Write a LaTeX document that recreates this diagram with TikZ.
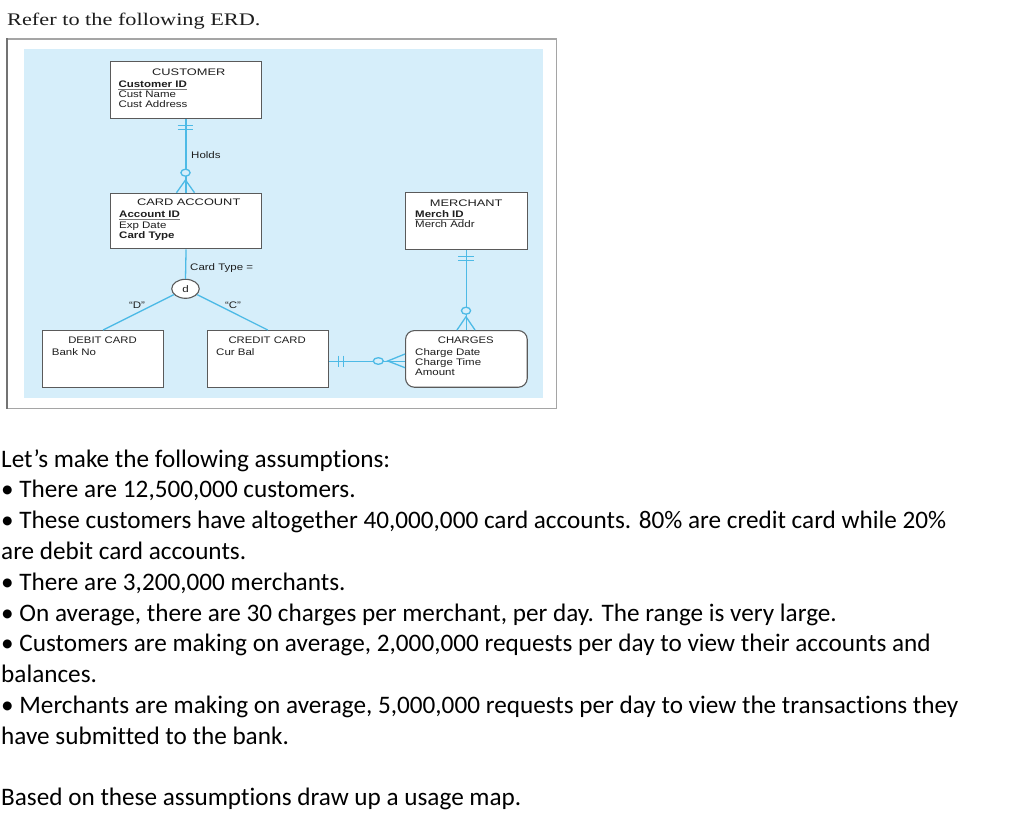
\documentclass[tikz,border=0pt]{standalone}
\usepackage{fontspec}
\usetikzlibrary{shapes.geometric,calc}
\setmainfont{Carlito}[Ligatures=NoCommon]
\newfontfamily\erdA[FakeStretch=1.35]{Liberation Sans}
\newfontfamily\erdB[FakeStretch=1.19]{Liberation Sans}
\newfontfamily\erdC[FakeStretch=1.21]{Liberation Sans}
\newfontfamily\hdfont[FakeStretch=1.26]{Liberation Serif}
\definecolor{bgblue}{RGB}{214,238,250}
\definecolor{lnblue}{RGB}{77,186,230}
\definecolor{boxgray}{RGB}{90,90,90}
\definecolor{txtgray}{RGB}{30,30,30}
\definecolor{ulgray}{RGB}{120,120,120}
\definecolor{framelight}{RGB}{165,165,165}
\definecolor{framedark}{RGB}{115,115,115}
\begin{document}
\begin{tikzpicture}[x=1pt,y=-1pt,
  ent/.style={draw=boxgray, fill=white, line width=1.1pt, inner sep=0pt, anchor=north west},
  ttlA/.style={font=\erdA\fontsize{9.5}{10}\selectfont, text=txtgray, inner sep=0pt, anchor=base},
  ttlB/.style={font=\erdB\fontsize{9.5}{10}\selectfont, text=txtgray, inner sep=0pt, anchor=base},
  attr/.style={font=\erdC\fontsize{9.5}{10}\selectfont, text=txtgray, inner sep=0pt, anchor=base west},
  keyattr/.style={font=\erdC\bfseries\fontsize{9.5}{10}\selectfont, text=txtgray, inner sep=0pt, anchor=base west},
  lbl/.style={font=\erdC\fontsize{9.5}{10}\selectfont, text=txtgray, inner sep=0pt, anchor=base},
  conn/.style={draw=lnblue, line width=1.3pt},
  ul/.style={draw=ulgray, line width=0.8pt},
  para/.style={font=\fontsize{25.2}{30.8}\selectfont, inner sep=0pt, anchor=base west, text=black}
]
\fill[white] (0,0) rectangle (1024,835);
\useasboundingbox (0,0) rectangle (1024,835);

% header
\node[font=\hdfont\fontsize{17.7}{20}\selectfont, text=txtgray, inner sep=0pt, anchor=base west] (hdr) at (7,25) {Refer to the following ERD.};

% frame and background
\draw[framelight, line width=1.3pt] (7,39) -- (556.7,39) -- (556.7,408.7) -- (7,408.7);
\draw[framedark, line width=2.2pt] (7,38.4) -- (7,409.3);
\fill[bgblue] (23.5,49) rectangle (543.3,398.3);

% CUSTOMER
\node[ent, minimum width=151pt, minimum height=57pt] (cust) at (110,61) {};
\node[ttlA] (custT) at (188.8,75) {CUSTOMER};
\node[keyattr] (custA1) at (118.3,87) {Customer ID};
\draw[ul] ([yshift=-2.3pt]custA1.base west) -- ([yshift=-2.3pt]custA1.base east);
\node[attr] (custA2) at (118.3,97) {Cust Name};
\node[attr] (custA3) at (118.3,107) {Cust Address};

% CARD ACCOUNT
\node[ent, minimum width=151pt, minimum height=55.5pt] (card) at (110,192.7) {};
\node[ttlA] (cardT) at (188.7,205.7) {CARD ACCOUNT};
\node[keyattr] (cardA1) at (119,217.3) {Account ID};
\draw[ul] ([yshift=-2.3pt]cardA1.base west) -- ([yshift=-2.3pt]cardA1.base east);
\node[attr] (cardA2) at (119,228.3) {Exp Date};
\node[keyattr] (cardA3) at (119,238.3) {Card Type};

% MERCHANT
\node[ent, minimum width=121.7pt, minimum height=56.7pt] (merch) at (405,192.3) {};
\node[ttlA] (merchT) at (466.2,206) {MERCHANT};
\node[keyattr] (merchA1) at (415,217.3) {Merch ID};
\draw[ul] ([yshift=-2.3pt]merchA1.base west) -- ([yshift=-2.3pt]merchA1.base east);
\node[attr] (merchA2) at (415,227.3) {Merch Addr};

% DEBIT CARD
\node[ent, minimum width=121.6pt, minimum height=56.7pt] (debit) at (41.7,330) {};
\node[ttlB] (debitT) at (102.5,343) {DEBIT CARD};
\node[attr] (debitA1) at (51.7,355) {Bank No};

% CREDIT CARD
\node[ent, minimum width=121pt, minimum height=56.7pt] (credit) at (206.7,330) {};
\node[ttlB] (creditT) at (267.2,343) {CREDIT CARD};
\node[attr] (creditA1) at (216,355) {Cur Bal};

% CHARGES
\node[ent, rounded corners=9pt, minimum width=121.7pt, minimum height=56.7pt] (charges) at (405,330) {};
\node[ttlB] (chargesT) at (465.8,343.3) {CHARGES};
\node[attr] (chargesA1) at (415,355) {Charge Date};
\node[attr] (chargesA2) at (415,365) {Charge Time};
\node[attr] (chargesA3) at (415,375) {Amount};

% Holds relationship
\draw[conn] (cust.south) -- (card.north);
\draw[conn] (177.7,125.7) -- (193.3,125.7) (177.7,129.3) -- (193.3,129.3);
\draw[conn, fill=bgblue] (185.5,172.7) ellipse [x radius=4.6pt, y radius=3.5pt];
\draw[conn] (176.5,192.7) -- (185.5,180) -- (194.5,192.7);
\node[attr] (holds) at (191,158.3) {Holds};

% subtype
\node[draw=boxgray, fill=white, ellipse, minimum width=27.5pt, minimum height=19pt, inner sep=0pt, line width=1.1pt, font=\erdC\fontsize{9.5}{10}\selectfont, text=txtgray] (d) at (185.5,288.8) {d};
\draw[conn] (card.south) -- (d.north);
\draw[conn] (d) -- (debit.north);
\draw[conn] (d) -- (credit.north);
\node[attr] (ctype) at (190,270.7) {Card Type =};
\node[lbl] (lD) at (137,308) {“D”};
\node[lbl] (lC) at (233,308) {“C”};

% MERCHANT - CHARGES
\draw[conn] (merch.south) -- (charges.north);
\draw[conn] (458,256.7) -- (474,256.7) (458,260.7) -- (474,260.7);
\draw[conn, fill=bgblue] (466,310.7) ellipse [x radius=4.6pt, y radius=3.5pt];
\draw[conn] (457,330) -- (466,316.7) -- (475,330);

% CREDIT CARD - CHARGES
\draw[conn] ([yshift=-2.6pt]credit.east) -- ([yshift=-2.6pt]charges.west);
\draw[conn] (338.3,355.5) -- (338.3,366.5) (343.3,355.5) -- (343.3,366.5);
\draw[conn, fill=bgblue] (378.3,361) ellipse [x radius=5pt, y radius=3.3pt];
\draw[conn] (405,354) -- (387.7,361) -- (405,367.7);

% text
\node[para] (p1) at (1,467) {Let’s make the following assumptions:};
\node[para] (p2) at (1,497.8) {• There are 12,500,000 customers.};
\node[para] (p3) at (1,528.6) {• These customers have altogether 40,000,000 card accounts. 80\% are credit card while 20\%};
\node[para] (p4) at (1,559.4) {are debit card accounts.};
\node[para] (p5) at (1,590.2) {• There are 3,200,000 merchants.};
\node[para] (p6) at (1,621) {• On average, there are 30 charges per merchant, per day. The range is very large.};
\node[para] (p7) at (1,651.8) {• Customers are making on average, 2,000,000 requests per day to view their accounts and};
\node[para] (p8) at (1,682.6) {balances.};
\node[para] (p9) at (1,713.4) {• Merchants are making on average, 5,000,000 requests per day to view the transactions they};
\node[para] (p10) at (1,744.2) {have submitted to the bank.};
\node[para] (p12) at (1,805.8) {Based on these assumptions draw up a usage map.};
\end{tikzpicture}
\end{document}
